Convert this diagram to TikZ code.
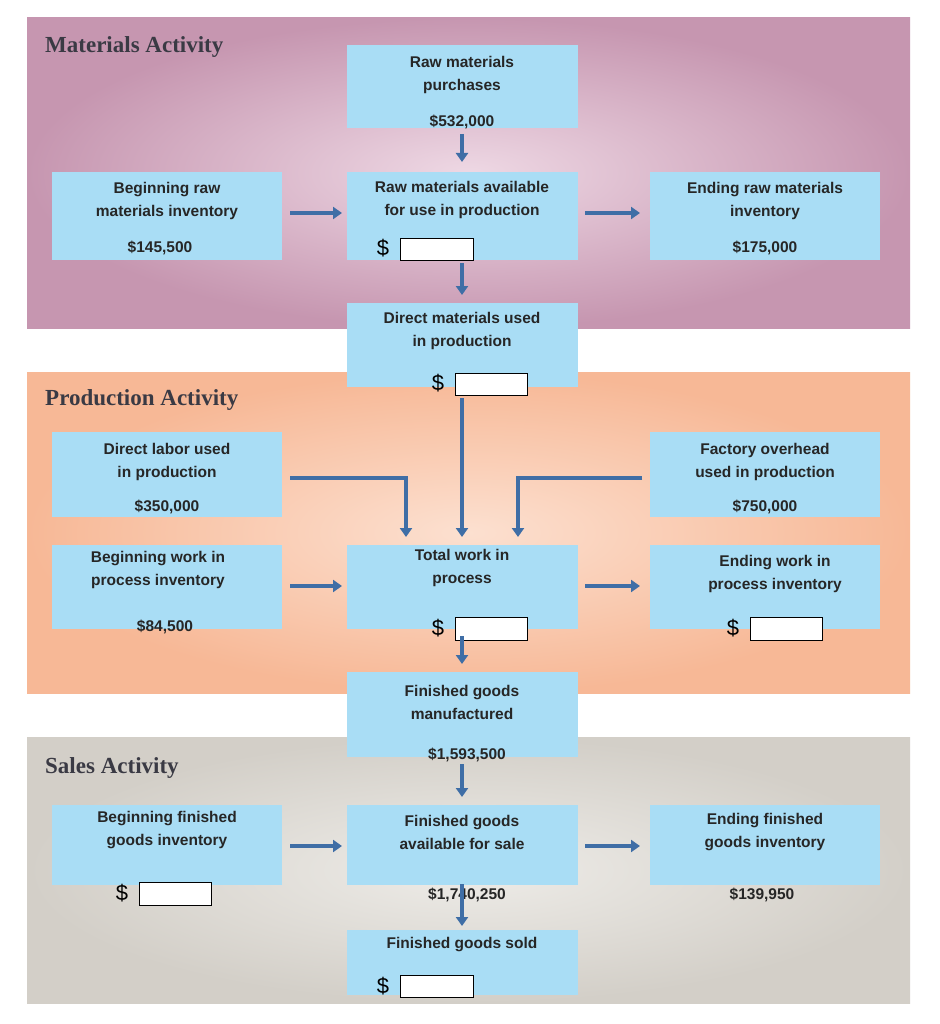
\documentclass[tikz,border=0pt]{standalone}
\usepackage{fontspec}
\setmainfont{Liberation Sans}
\newfontfamily\hdfont{Liberation Serif}
\usetikzlibrary{arrows.meta}
\definecolor{mauve}{HTML}{C696B0}
\definecolor{mauvelt}{HTML}{EED8E4}
\definecolor{peach}{HTML}{F7B896}
\definecolor{peachlt}{HTML}{FCE0D0}
\definecolor{greyb}{HTML}{D3CFC8}
\definecolor{greylt}{HTML}{EEECE8}
\definecolor{boxblue}{HTML}{A9DDF5}
\definecolor{arr}{HTML}{3F6EA6}
\definecolor{hd}{HTML}{3A3A44}
\tikzset{
  box/.style={fill=boxblue,draw=none},
  lbl/.style={font=\fontsize{15.5}{17}\selectfont\bfseries,text=black!85,inner sep=0pt,align=center},
  hdl/.style={font=\hdfont\fontsize{23}{26}\selectfont\bfseries,text=hd,anchor=west,inner sep=0pt},
  ans/.style={draw=black,fill=white,line width=0.8pt},
  dol/.style={font=\fontsize{22}{24}\selectfont,inner sep=0pt},
  flow/.style={draw=arr,line width=4pt,-{Triangle[length=9pt,width=12pt]}}
}
\begin{document}
\begin{tikzpicture}[x=1pt,y=-1pt]
\useasboundingbox (0,0) rectangle (939,1024);
\fill[white] (0,0) rectangle (939,1024);
% bands
\shade[inner color=mauvelt,outer color=mauve] (27,18) rectangle (910,328);
\shade[inner color=peachlt,outer color=peach] (27,372) rectangle (910,693);
\shade[inner color=greylt,outer color=greyb] (27,737) rectangle (910,1003);
\node[hdl] (h1) at (45,47) {Materials Activity};
\node[hdl] (h2) at (45,400) {Production Activity};
\node[hdl] (h3) at (45,768) {Sales Activity};
% boxes
\fill[box] (347,45) rectangle (578,128);
\fill[box] (52,172) rectangle (282,260);
\fill[box] (347,172) rectangle (578,260);
\fill[box] (650,172) rectangle (880,260);
\fill[box] (347,303) rectangle (578,387);
\fill[box] (52,432) rectangle (282,517);
\fill[box] (650,432) rectangle (880,517);
\fill[box] (52,545) rectangle (282,629);
\fill[box] (347,545) rectangle (578,629);
\fill[box] (650,545) rectangle (880,629);
\fill[box] (347,672) rectangle (578,757);
\fill[box] (52,805) rectangle (282,885);
\fill[box] (347,805) rectangle (578,885);
\fill[box] (650,805) rectangle (880,885);
\fill[box] (347,930) rectangle (578,995);
% labels
\node[lbl] (t1) at (462,75) {Raw materials\\[6pt]purchases};
\node[lbl] (t1v) at (462,122) {\$532,000};
\node[lbl] (t2) at (167,201) {Beginning raw\\[6pt]materials inventory};
\node[lbl] (t2v) at (160,248) {\$145,500};
\node[lbl] (t3) at (462,200) {Raw materials available\\[6pt]for use in production};
\node[lbl] (t4) at (765,201) {Ending raw materials\\[6pt]inventory};
\node[lbl] (t4v) at (765,248) {\$175,000};
\node[lbl] (t5) at (462,331) {Direct materials used\\[6pt]in production};
\node[lbl] (t6) at (167,462) {Direct labor used\\[6pt]in production};
\node[lbl] (t6v) at (167,507) {\$350,000};
\node[lbl] (t7) at (765,462) {Factory overhead\\[6pt]used in production};
\node[lbl] (t7v) at (765,507) {\$750,000};
\node[lbl] (t8) at (158,570) {Beginning work in\\[6pt]process inventory};
\node[lbl] (t8v) at (165,627) {\$84,500};
\node[lbl] (t9) at (462,568) {Total work in\\[6pt]process};
\node[lbl] (t10) at (775,574) {Ending work in\\[6pt]process inventory};
\node[lbl] (t11) at (462,702) {Finished goods\\[6pt]manufactured};
\node[lbl] (t11v) at (467,755) {\$1,593,500};
\node[lbl] (t12) at (167,830) {Beginning finished\\[6pt]goods inventory};
\node[lbl] (t13) at (462,832) {Finished goods\\[6pt]available for sale};
\node[lbl] (t13v) at (467,895) {\$1,740,250};
\node[lbl] (t14) at (765,832) {Ending finished\\[6pt]goods inventory};
\node[lbl] (t14v) at (762,895) {\$139,950};
\node[lbl] (t15) at (462,945) {Finished goods sold};
% answer fields
\node[dol] (d1) at (383,248) {\$}; \draw[ans] (400,238) rectangle (473,260);
\node[dol] (d2) at (438,383) {\$}; \draw[ans] (455,373) rectangle (527,395);
\node[dol] (d3) at (438,628) {\$}; \draw[ans] (455,617) rectangle (527,640);
\node[dol] (d4) at (733,628) {\$}; \draw[ans] (750,617) rectangle (822,640);
\node[dol] (d5) at (122,893) {\$}; \draw[ans] (139,882) rectangle (211,905);
\node[dol] (d6) at (383,986) {\$}; \draw[ans] (400,975) rectangle (473,997);
% connector coordinates
\coordinate (a1s) at (462,134); \coordinate (a1e) at (462,162);
\coordinate (a2s) at (290,213); \coordinate (a2e) at (342,213);
\coordinate (a3s) at (585,213); \coordinate (a3e) at (640,213);
\coordinate (a4s) at (462,263); \coordinate (a4e) at (462,295);
\coordinate (a5s) at (462,398); \coordinate (a5e) at (462,537);
\coordinate (a6s) at (290,478); \coordinate (a6m) at (406,478); \coordinate (a6e) at (406,537);
\coordinate (a7s) at (642,478); \coordinate (a7m) at (518,478); \coordinate (a7e) at (518,537);
\coordinate (a8s) at (290,586); \coordinate (a8e) at (342,586);
\coordinate (a9s) at (585,586); \coordinate (a9e) at (640,586);
\coordinate (a10s) at (462,636); \coordinate (a10e) at (462,664);
\coordinate (a11s) at (462,764); \coordinate (a11e) at (462,797);
\coordinate (a12s) at (290,846); \coordinate (a12e) at (342,846);
\coordinate (a13s) at (585,846); \coordinate (a13e) at (640,846);
\coordinate (a14s) at (462,884); \coordinate (a14e) at (462,926);
\draw[flow] (a1s) -- (a1e);
\draw[flow] (a2s) -- (a2e);
\draw[flow] (a3s) -- (a3e);
\draw[flow] (a4s) -- (a4e);
\draw[flow] (a5s) -- (a5e);
\draw[flow] (a6s) -- (a6m) -- (a6e);
\draw[flow] (a7s) -- (a7m) -- (a7e);
\draw[flow] (a8s) -- (a8e);
\draw[flow] (a9s) -- (a9e);
\draw[flow] (a10s) -- (a10e);
\draw[flow] (a11s) -- (a11e);
\draw[flow] (a12s) -- (a12e);
\draw[flow] (a13s) -- (a13e);
\draw[flow] (a14s) -- (a14e);
\end{tikzpicture}
\end{document}
